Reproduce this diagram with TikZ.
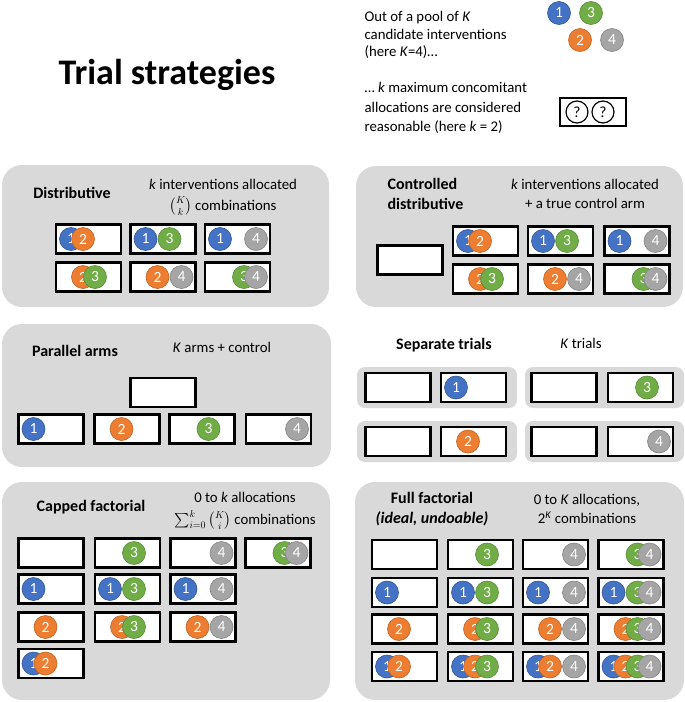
\documentclass[tikz,border=0pt]{standalone}
\usepackage{amsmath}
\usepackage{fontspec}
\setmainfont{Carlito}
\usetikzlibrary{calc}
\definecolor{panelgray}{HTML}{D9D9D9}
\definecolor{ivblue}{HTML}{4472C4}
\definecolor{ivorange}{HTML}{ED7D31}
\definecolor{ivgreen}{HTML}{70AD47}
\definecolor{ivgray}{HTML}{A5A5A5}
\tikzset{
  panel/.style={fill=panelgray, draw=none, rounded corners=20pt},
  group/.style={fill=panelgray, draw=none, rounded corners=8pt},
  armbox/.style={draw=black, line width=2.4pt, fill=white, minimum width=65pt, minimum height=29pt, inner sep=0pt},
  ivc/.style={circle, minimum size=23pt, inner sep=0pt, text=white, font=\fontsize{15.5}{15.5}\selectfont, line width=0.6pt},
  iv1/.style={ivc, fill=ivblue, draw=ivblue!75!black},
  iv2/.style={ivc, fill=ivorange, draw=ivorange!80!black},
  iv3/.style={ivc, fill=ivgreen, draw=ivgreen!80!black},
  iv4/.style={ivc, fill=ivgray, draw=ivgray!80!black},
  qc/.style={circle, minimum size=22pt, inner sep=0pt, draw=black, line width=1.2pt, fill=white, font=\fontsize{15.5}{15.5}\selectfont},
  lbl/.style={font=\fontsize{14.8}{18.5}\selectfont, align=center},
  ttl/.style={font=\fontsize{16}{19.5}\selectfont\bfseries, align=left},
}
\newcommand\armnode[4]{%
  \node[armbox] (#1) at (#2,#3) {};
  \foreach \i in {#4} {\pgfmathsetmacro\slot{12*\i-29.5}\node[iv\i] (#1c\i) at ($(#1.center)+(\slot,0)$) {\i};}%
}
\newcommand\emptyarm[3]{\node[armbox] (#1) at (#2,#3) {};}
\begin{document}
\begin{tikzpicture}[x=1pt,y=-1pt]
\useasboundingbox (0,0) rectangle (685,702);
% title
\node[font=\fontsize{36}{38}\selectfont\bfseries] (title) at (167,75) {Trial strategies};
% pool
\node[font=\fontsize{14.8}{17.5}\selectfont, align=left, anchor=west] (pooltxt) at (361,35) {Out of a pool of \textit{K}\\candidate interventions\\(here \textit{K}=4)…};
\node[iv1] (p1) at (559,13) {1};
\node[iv3] (p3) at (591,13) {3};
\node[iv2] (p2) at (580,40) {2};
\node[iv4] (p4) at (612,40) {4};
\node[font=\fontsize{14.8}{19.6}\selectfont, align=left, anchor=west] (captxt) at (361,108) {… \textit{k} maximum concomitant\\allocations are considered\\reasonable (here \textit{k} = 2)};
\node[draw=black, line width=2pt, fill=white, minimum width=66pt, minimum height=28pt] (qbox) at (592.5,111.5) {};
\node[qc] (q1) at (577,112) {?};
\node[qc] (q2) at (603,112) {?};

% Distributive
\fill[panel] (2,165) rectangle (329,307);
\node[ttl] (distt) at (72,193) {Distributive};
\node[lbl, inner sep=0pt] (distl1) at (223,184) {\textit{k} interventions allocated};
\node[lbl, inner sep=0pt] (distl2) at (223,206) {$\binom{K}{k}$ combinations};
\armnode{d1}{88.5}{239}{1,2}
\armnode{d2}{163}{239}{1,3}
\armnode{d3}{237.5}{239}{1,4}
\armnode{d4}{88.5}{277}{2,3}
\armnode{d5}{163}{277}{2,4}
\armnode{d6}{237.5}{277}{3,4}

% Controlled distributive
\fill[panel] (356,166) rectangle (683,307);
\node[ttl, anchor=west] (cdt) at (384,194) {Controlled\\distributive};
\node[lbl] (cdl) at (585,194) {\textit{k} interventions allocated\\+ a true control arm};
\emptyarm{c0}{410}{260}
\armnode{c1}{485.5}{241}{1,2}
\armnode{c2}{560.5}{241}{1,3}
\armnode{c3}{637}{241}{1,4}
\armnode{c4}{485.5}{279}{2,3}
\armnode{c5}{560.5}{279}{2,4}
\armnode{c6}{637}{279}{3,4}

% Parallel arms
\fill[panel] (2,324) rectangle (331,467);
\node[ttl] (pat) at (75,351) {Parallel arms};
\node[lbl] (pal) at (222,347) {\textit{K} arms + control};
\emptyarm{pa0}{163}{392.5}
\armnode{pa1}{51}{429}{1}
\armnode{pa2}{127}{429}{2}
\armnode{pa3}{202}{429}{3}
\armnode{pa4}{278.5}{429}{4}

% Separate trials
\node[ttl] (stt) at (444,345) {Separate trials};
\node[lbl] (stl) at (581,343) {\textit{K} trials};
\fill[group] (357,367) rectangle (517,408);
\fill[group] (357,421) rectangle (517,462);
\fill[group] (525,367) rectangle (684,408);
\fill[group] (525,421) rectangle (684,462);
\emptyarm{s1c}{398}{387.5}
\armnode{s1}{473.5}{387.5}{1}
\emptyarm{s2c}{398}{441.5}
\armnode{s2}{473.5}{441.5}{2}
\emptyarm{s3c}{564}{387.5}
\armnode{s3}{640.5}{387.5}{3}
\emptyarm{s4c}{564}{441.5}
\armnode{s4}{640.5}{441.5}{4}

% Capped factorial
\fill[panel] (2,482) rectangle (330,700);
\node[ttl] (cft) at (91,507) {Capped factorial};
\node[lbl, inner sep=0pt] (cfl1) at (245,497) {0 to \textit{k} allocations};
\node[lbl, inner sep=0pt] (cfl2) at (245,520) {$\sum\nolimits_{i=0}^{k}\binom{K}{i}$ combinations};
\emptyarm{f00}{51}{553}
\armnode{f01}{127.5}{553}{3}
\armnode{f02}{203}{553}{4}
\armnode{f03}{278}{553}{3,4}
\armnode{f10}{51}{589}{1}
\armnode{f11}{127.5}{589}{1,3}
\armnode{f12}{203}{589}{1,4}
\armnode{f20}{51}{627}{2}
\armnode{f21}{127.5}{627}{2,3}
\armnode{f22}{203}{627}{2,4}
\armnode{f30}{51}{663.5}{1,2}

% Full factorial
\fill[panel] (355,482) rectangle (684,700);
\node[ttl, align=center] (fft) at (432,509) {Full factorial\\\textit{(ideal, undoable)}};
\node[lbl] (ffl) at (587,509) {0 to \textit{K} allocations,\\2\textsuperscript{\textit{K}} combinations};
\emptyarm{g00}{404.5}{554.5}
\armnode{g01}{480.5}{554.5}{3}
\armnode{g02}{555.5}{554.5}{4}
\armnode{g03}{631}{554.5}{3,4}
\armnode{g10}{404.5}{592.5}{1}
\armnode{g11}{480.5}{592.5}{1,3}
\armnode{g12}{555.5}{592.5}{1,4}
\armnode{g13}{631}{592.5}{1,3,4}
\armnode{g20}{404.5}{629}{2}
\armnode{g21}{480.5}{629}{2,3}
\armnode{g22}{555.5}{629}{2,4}
\armnode{g23}{631}{629}{2,3,4}
\armnode{g30}{404.5}{666.5}{1,2}
\armnode{g31}{480.5}{666.5}{1,2,3}
\armnode{g32}{555.5}{666.5}{1,2,4}
\armnode{g33}{631}{666.5}{1,2,3,4}
\end{tikzpicture}
\end{document}
